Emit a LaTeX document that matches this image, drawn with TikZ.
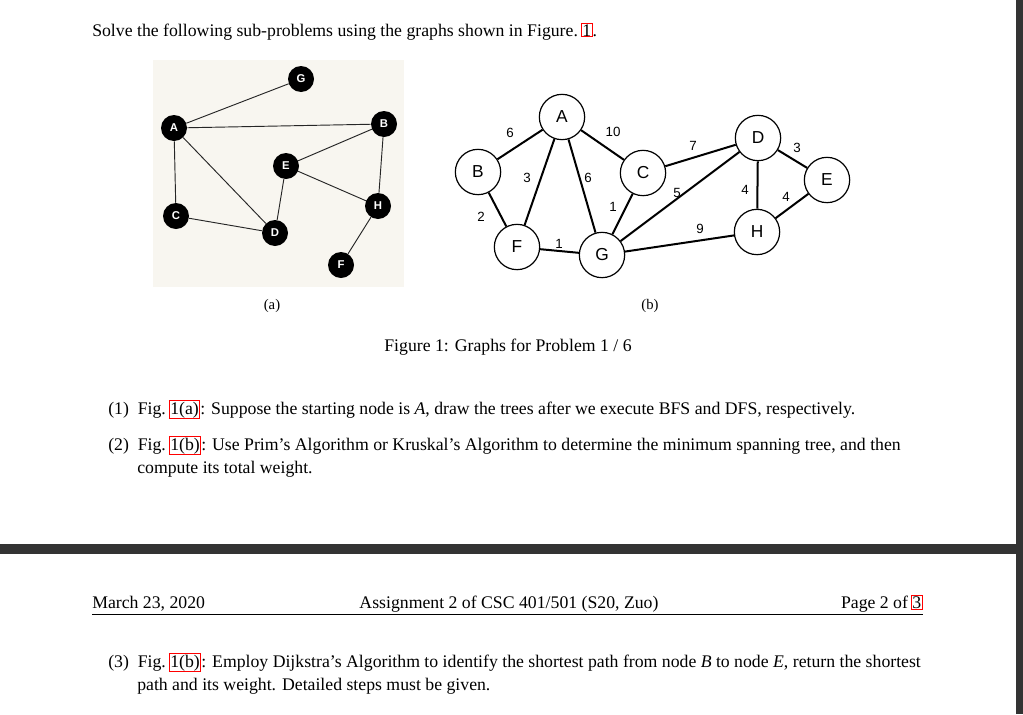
\documentclass[tikz,border=0pt]{standalone}
\usepackage{fontspec}
\setmainfont{Liberation Serif}
\newfontfamily\gsans{Liberation Sans}
\newcommand{\rbx}[1]{{\setlength\fboxsep{0.3pt}\setlength\fboxrule{0.8pt}\fcolorbox{red}{white}{#1}}}
\begin{document}
\begin{tikzpicture}[x=0.75pt,y=-0.75pt,
 txt/.style={anchor=base west,inner sep=0pt,font=\fontsize{13.3}{15}\selectfont},
 an/.style={circle,fill=black,minimum size=19.5pt,inner sep=0pt,text=white,font=\gsans\bfseries\fontsize{8.5}{9}\selectfont},
 ae/.style={line width=0.7pt,draw=black!85},
 bn/.style={circle,draw,line width=0.9pt,fill=white,minimum size=34pt,inner sep=0pt,font=\gsans\fontsize{13}{14}\selectfont},
 be/.style={line width=1.5pt},
 wl/.style={font=\gsans\fontsize{10}{11}\selectfont,inner sep=0pt}]
\useasboundingbox (0,0) rectangle (1023,714);
\fill[white] (0,0) rectangle (1023,714);
\fill[black!80] (0,544) rectangle (1023,554);
\fill[black!80] (1016,0) rectangle (1023,714);
\node[txt] (l1) at (92,36) {Solve the following sub-problems using the graphs shown in Figure.\,\rbx{1}.};
% graph a
\fill[color={rgb,255:red,248;green,246;blue,240}] (153,60) rectangle (404,287);
\node[an] (aG) at (301,79) {G};
\node[an] (aA) at (174,128) {A};
\node[an] (aB) at (384,124) {B};
\node[an] (aE) at (286,166) {E};
\node[an] (aH) at (378,206) {H};
\node[an] (aC) at (176,216) {C};
\node[an] (aD) at (275,233) {D};
\node[an] (aF) at (341,265) {F};
\foreach \u/\v in {aA/aG,aA/aB,aA/aC,aA/aD,aB/aE,aB/aH,aE/aH,aE/aD,aC/aD,aH/aF}
 \draw[ae] (\u) -- (\v);
\node[txt,anchor=base] (la) at (272,309) {\fontsize{11}{12}\selectfont(a)};
% graph b
\node[bn] (A) at (562,117) {A};
\node[bn] (B) at (478,172) {B};
\node[bn] (C) at (643,173) {C};
\node[bn] (D) at (758,138) {D};
\node[bn] (E) at (827,180) {E};
\node[bn] (F) at (517,247) {F};
\node[bn] (G) at (602,255) {G};
\node[bn] (H) at (757,232) {H};
\foreach \u/\v in {A/B,A/C,A/F,A/G,B/F,F/G,C/G,C/D,D/G,D/E,D/H,E/H,G/H}
 \draw[be] (\u) -- (\v);
\node[wl] (w1) at (510,133) {6};
\node[wl] (w2) at (613,132) {10};
\node[wl] (w3) at (693,146) {7};
\node[wl] (w4) at (797,148) {3};
\node[wl] (w5) at (527,178) {3};
\node[wl] (w6) at (588,178) {6};
\node[wl] (w7) at (613,207) {1};
\node[wl] (w8) at (677,193) {5};
\node[wl] (w9) at (745,190) {4};
\node[wl] (w10) at (786,197) {4};
\node[wl] (w11) at (481,217) {2};
\node[wl] (w12) at (559,244) {1};
\node[wl] (w13) at (700,229) {9};
\node[txt,anchor=base] (lb) at (650,309) {\fontsize{11}{12}\selectfont(b)};
\node[txt,anchor=base] (cap) at (508,351) {Figure 1: Graphs for Problem 1 / 6};
\node[txt] (i1) at (108,414) {(1)\hspace{0.5em}Fig.\,\rbx{1(a)}: Suppose the starting node is \textit{A}, draw the trees after we execute BFS and DFS, respectively.};
\node[txt] (i2) at (108,450) {(2)\hspace{0.5em}Fig.\,\rbx{1(b)}: Use Prim's Algorithm or Kruskal's Algorithm to determine the minimum spanning tree, and then};
\node[txt] (i2b) at (137,473) {compute its total weight.};
\node[txt] (f1) at (92,608) {March 23, 2020};
\node[txt,anchor=base] (f2) at (509,608) {Assignment 2 of CSC 401/501 (S20, Zuo)};
\node[txt,anchor=base east] (f3) at (923,608) {Page 2 of\,\rbx{3}};
\draw[line width=0.5pt] (92,614) -- (923,614);
\node[txt] (i3) at (108,667) {(3)\hspace{0.5em}Fig.\,\rbx{1(b)}: Employ Dijkstra's Algorithm to identify the shortest path from node \textit{B} to node \textit{E}, return the shortest};
\node[txt] (i3b) at (137,690) {path and its weight. Detailed steps must be given.};
\end{tikzpicture}
\end{document}
